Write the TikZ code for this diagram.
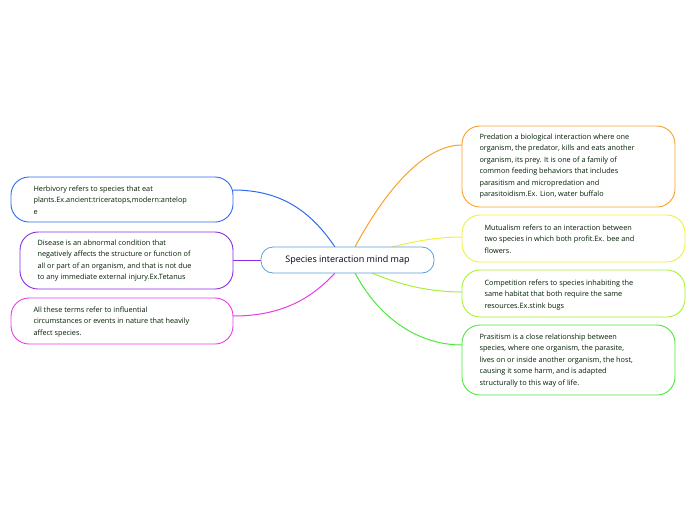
\documentclass[tikz,border=0pt]{standalone}
\usepackage{fontspec}
\setmainfont{Open Sans}
\begin{document}
\begin{tikzpicture}[x=1pt,y=-1pt,
 bx/.style={draw,line width=0.9pt,rounded corners=18pt,inner sep=0pt},
 tx/.style={font=\fontsize{7.3}{11.5}\selectfont,text=black!70!green!40!black,align=left,anchor=north west},
 ln/.style={line width=1pt}]
\useasboundingbox (0,0) rectangle (696,520);
\definecolor{cblue}{HTML}{2F6BF0}\definecolor{cpur}{HTML}{8A2BE2}\definecolor{cmag}{HTML}{E83CE8}
\definecolor{corg}{HTML}{F7A12B}\definecolor{cyel}{HTML}{F0F03A}\definecolor{cchar}{HTML}{A8F03A}
\definecolor{cgrn}{HTML}{4CE83A}\definecolor{ccen}{HTML}{5AA0D8}
% connectors
\coordinate (c1) at (335,247);\coordinate (c2) at (355,247);\coordinate (c3) at (392,247);
\coordinate (c4) at (372,273);\coordinate (c5) at (355,273);\coordinate (c6) at (335,273);
\draw[ln,cblue] (c1) .. controls (310,210) and (280,190) .. (233,190);
\draw[ln,cpur] (261,260) -- (233,260);
\draw[ln,cmag] (c6) .. controls (310,300) and (280,316) .. (233,316);
\draw[ln,corg] (c2) .. controls (380,200) and (420,145) .. (462,145);
\draw[ln,cyel] (c3) .. controls (420,240) and (440,237) .. (462,237);
\draw[ln,cchar] (c4) .. controls (400,285) and (430,292) .. (462,292);
\draw[ln,cgrn] (c5) .. controls (380,320) and (420,345) .. (462,345);
% boxes
\draw[bx,cblue,fill=white] (11,177) rectangle (233,222);
\draw[bx,cpur,fill=white] (20,232) rectangle (233,289);
\draw[bx,cmag,fill=white] (11,298) rectangle (233,344);
\draw[bx,corg,fill=white] (462,126) rectangle (675,207);
\draw[bx,cyel,fill=white] (462,215) rectangle (685,262);
\draw[bx,cchar,fill=white] (462,270) rectangle (685,317);
\draw[bx,cgrn,fill=white] (462,325) rectangle (675,395);
\draw[line width=0.8pt,ccen,fill=white,rounded corners=12pt] (261,247) rectangle (434,273);
\node (center) at (347.5,260) {\fontsize{9}{10}\selectfont\color{black!70!blue!30!black}Species interaction mind map};
\node[tx] (herb) at (30,182) {Herbivory refers to species that eat\\plants.Ex.ancient:triceratops,modern:antelop\\e};
\node[tx] (dis) at (34,236) {Disease is an abnormal condition that\\negatively affects the structure or function of\\all or part of an organism, and that is not due\\to any immediate external injury.Ex.Tetanus};
\node[tx] (all) at (30,303) {All these terms refer to influential\\circumstances or events in nature that heavily\\affect species.};
\node[tx] (pred) at (476,130) {Predation a biological interaction where one\\organism, the predator, kills and eats another\\organism, its prey. It is one of a family of\\common feeding behaviors that includes\\parasitism and micropredation and\\parasitoidism.Ex. Lion, water buffalo};
\node[tx] (mut) at (481,221) {Mutualism refers to an interaction between\\two species in which both profit.Ex. bee and\\flowers.};
\node[tx] (comp) at (481,276) {Competition refers to species inhabiting the\\same habitat that both require the same\\resources.Ex.stink bugs};
\node[tx] (par) at (476,330) {Prasitism is a close relationship between\\species, where one organism, the parasite,\\lives on or inside another organism, the host,\\causing it some harm, and is adapted\\structurally to this way of life.};
\end{tikzpicture}
\end{document}
